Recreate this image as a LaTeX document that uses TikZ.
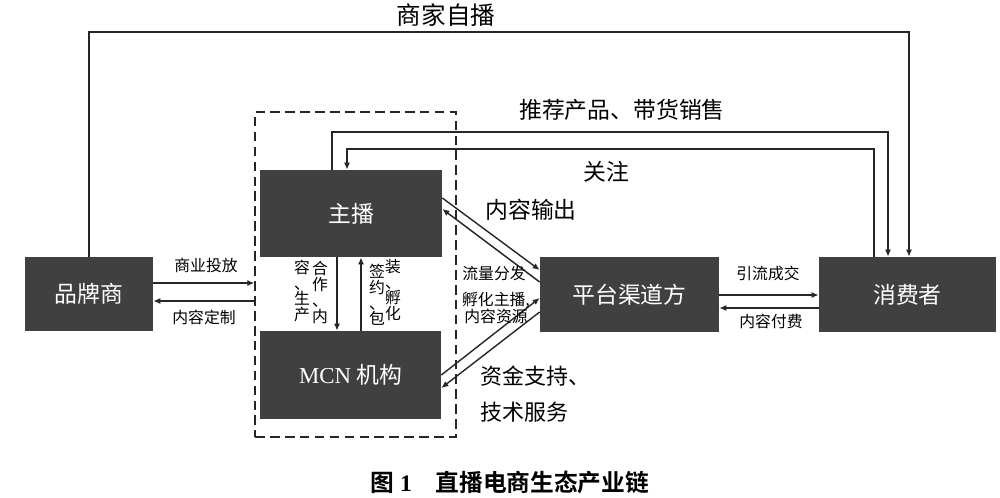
\documentclass[tikz,border=0pt]{standalone}
\usepackage{fontspec}
\setmainfont{Noto Sans CJK SC}[BoldFont={Noto Sans CJK SC Bold}]
\newfontfamily\latinfont{Liberation Serif}
\usetikzlibrary{arrows.meta, positioning, fit}
\definecolor{boxgray}{RGB}{64,64,64}

\begin{document}
\begin{tikzpicture}[
  x=0.02cm, y=-0.02cm,
  box/.style={rectangle, fill=boxgray, text=white, inner sep=0pt,
              font=\fontsize{13}{15}\selectfont},
  group/.style={rectangle, draw=black!85, line width=0.8pt,
                dash pattern=on 5.5pt off 3pt, inner sep=0pt},
  arrow/.style={-{Latex[length=4pt, width=3.5pt]}, line width=0.8pt, draw=black!85},
  lbl/.style={inner sep=0pt, font=\fontsize{13}{15}\selectfont},
  small/.style={inner sep=0pt, font=\fontsize{9}{11}\selectfont},
  vert/.style={inner sep=0pt, align=center, font=\fontsize{9}{9}\selectfont}
]
\useasboundingbox (0,0) rectangle (1000,497);

\node[box, minimum width=2.56cm, minimum height=1.48cm] (brand) at (89,294) {品牌商};
\node[box, minimum width=3.64cm, minimum height=1.74cm] (host) at (351,213.5) {主播};
\node[box, minimum width=3.62cm, minimum height=1.76cm] (mcn) at (350.5,375) {{\latinfont MCN} 机构};
\node[box, minimum width=3.58cm, minimum height=1.5cm] (platform) at (629.5,294.5) {平台渠道方};
\node[box, minimum width=3.54cm, minimum height=1.5cm] (consumer) at (907.5,294.5) {消费者};
\node[group, fit={(255,112) (456,437)}] (team) {};

\draw[arrow] (brand.north) |- (909,32) -- (consumer.north -| 909,0);
\draw[arrow] (host.north -| 332,0) |- (888,132) -- (consumer.north -| 888,0);
\draw[arrow] (consumer.north -| 874,0) |- (347,149) -- (host.north -| 347,0);
\draw[arrow] (host.east |- 0,198) -- (platform.west |- 0,270);
\draw[arrow] (platform.west |- 0,282) -- (host.east |- 0,209);
\draw[arrow] (mcn.east |- 0,375) -- (platform.west |- 0,298);
\draw[arrow] (platform.west |- 0,312) -- (mcn.east |- 0,388);
\draw[arrow] (host.south -| 337,0) -- (mcn.north -| 337,0);
\draw[arrow] (mcn.north -| 361,0) -- (host.south -| 361,0);
\draw[arrow] (brand.east |- 0,283) -- (team.west |- 0,283);
\draw[arrow] (team.west |- 0,301) -- (brand.east |- 0,301);
\draw[arrow] (platform.east |- 0,295) -- (consumer.west |- 0,295);
\draw[arrow] (consumer.west |- 0,308) -- (platform.east |- 0,308);

\node[lbl, font=\fontsize{14}{16}\selectfont] (selfcast) at (446,15) {商家自播};
\node[lbl] (recommend) at (622,110) {推荐产品、带货销售};
\node[lbl] (follow) at (606,172) {关注};
\node[lbl] (output) at (531,210) {内容输出};
\node[small] (traffic) at (494,273) {流量分发};
\node[small, align=center, font=\fontsize{9}{9.5}\selectfont] (incubate) at (496,308) {孵化主播,\\内容资源};
\node[lbl, anchor=west, align=left, font=\fontsize{12.5}{20}\selectfont] (funding) at (480,394) {资金支持、\\技术服务};
\node[small] (invest) at (206,265) {商业投放};
\node[small] (custom) at (204,317) {内容定制};
\node[small] (convert) at (768,273) {引流成交};
\node[small] (pay) at (771,321) {内容付费};
\node[vert] (coopL) at (302,291) {容\\、\\生\\产};
\node[vert] (coopR) at (320,292.5) {合\\作\\、\\内};
\node[vert] (signL) at (377,295) {签\\约\\、\\包};
\node[vert] (signR) at (393,290) {装\\、\\孵\\化};
\node[font=\bfseries\fontsize{13.5}{16}\selectfont] (caption) at (510,483) {图 {\latinfont 1}\quad 直播电商生态产业链};
\end{tikzpicture}
\end{document}
